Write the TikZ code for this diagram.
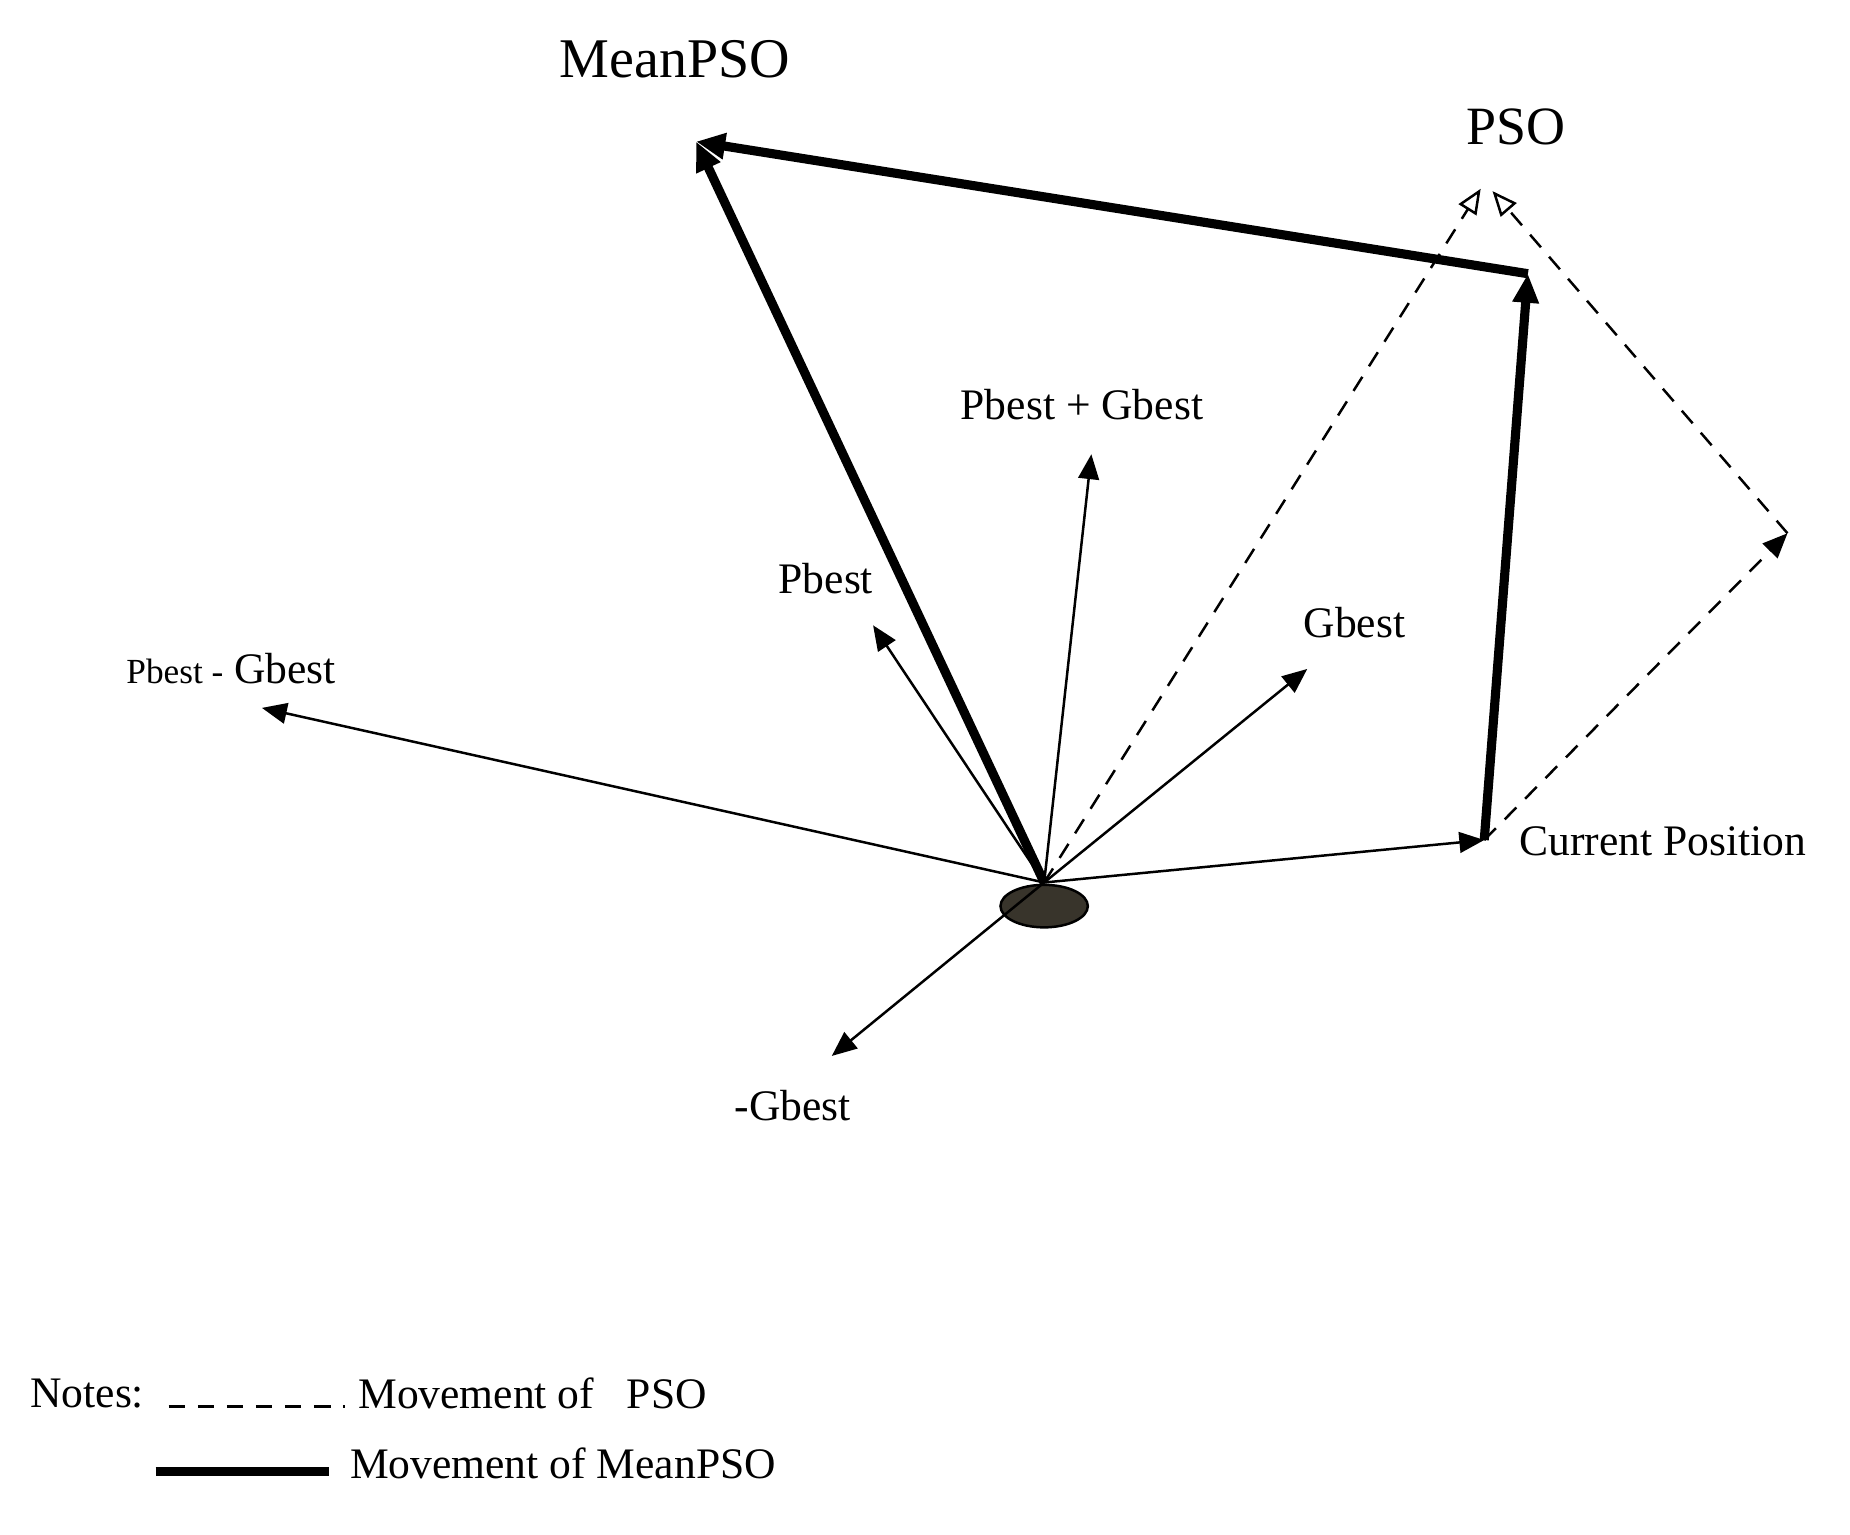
\documentclass[tikz,border=0pt]{standalone}
\usepackage{fontspec}
\setmainfont{Liberation Serif}
\usetikzlibrary{arrows.meta,shapes.geometric}
\begin{document}
\begin{tikzpicture}[x=0.01cm,y=-0.01cm,
  va/.style={line width=0.6pt,-{Triangle[length=6pt,width=5pt]}},
  vb/.style={line width=2.2pt,-{Triangle[length=7pt,width=6pt]}},
  dsh/.style={line width=0.6pt,dash pattern=on 4pt off 3pt},
  lbl/.style={font=\fontsize{10.5}{12}\selectfont,inner sep=0pt}]
\useasboundingbox (0,0) rectangle (1568,1301);
\node[draw=black,fill=black!80!olive,ellipse,minimum width=0.74cm,minimum height=0.36cm,inner sep=0pt,line width=0.6pt] (e) at (885,768) {};
\coordinate (o) at (885,748);
\coordinate (pg) at (222,600);
\coordinate (pb) at (740,530);
\coordinate (pp) at (925,385);
\coordinate (gb) at (1108,567);
\coordinate (cp) at (1258,712);
\coordinate (ng) at (705,895);
\coordinate (mp) at (590,120);
\coordinate (c2) at (1295,232);
\coordinate (ps) at (1255,160);
\coordinate (r) at (1515,452);
\coordinate (ps2) at (1265,162);
\draw[va] (o) -- (pg);
\draw[va] (o) -- (pb);
\draw[va] (o) -- (pp);
\draw[va] (o) -- (gb);
\draw[va] (o) -- (cp);
\draw[va] (o) -- (ng);
\draw[dsh,-{Triangle[length=6pt,width=5pt,open,fill=white]}] (o) -- (ps);
\draw[dsh,-{Triangle[length=6pt,width=5pt]}] (cp) -- (r);
\draw[dsh,-{Triangle[length=6pt,width=5pt,open,fill=white]}] (r) -- (ps2);
\draw[vb] (o) -- (mp);
\draw[vb] (cp) -- (c2);
\draw[vb] (c2) -- (mp);
\node[lbl,font=\fontsize{13.5}{15}\selectfont] (tm) at (572,50) {MeanPSO};
\node[lbl,font=\fontsize{13}{15}\selectfont] (tp) at (1285,108) {PSO};
\node[lbl] (tpp) at (917,343) {Pbest + Gbest};
\node[lbl] (tpb) at (700,490) {Pbest};
\node[lbl] (tgb) at (1148,528) {Gbest};
\node[lbl] (tpg) at (196,567) {{\fontsize{8.5}{10}\selectfont Pbest -} Gbest};
\node[lbl,anchor=west] (tcp) at (1287,713) {Current Position};
\node[lbl] (tng) at (672,937) {-Gbest};
\node[lbl,anchor=west] (tn) at (25,1181) {Notes:};
\coordinate (d1) at (143,1192); \coordinate (d2) at (292,1192);
\draw[dsh] (d1) -- (d2);
\node[lbl,anchor=west] (tm1) at (303,1181) {Movement of\ \ \ PSO};
\coordinate (k1) at (132,1247); \coordinate (k2) at (279,1247);
\draw[line width=2.2pt] (k1) -- (k2);
\node[lbl,anchor=west] (tm2) at (296,1240) {Movement of MeanPSO};
\end{tikzpicture}
\end{document}
